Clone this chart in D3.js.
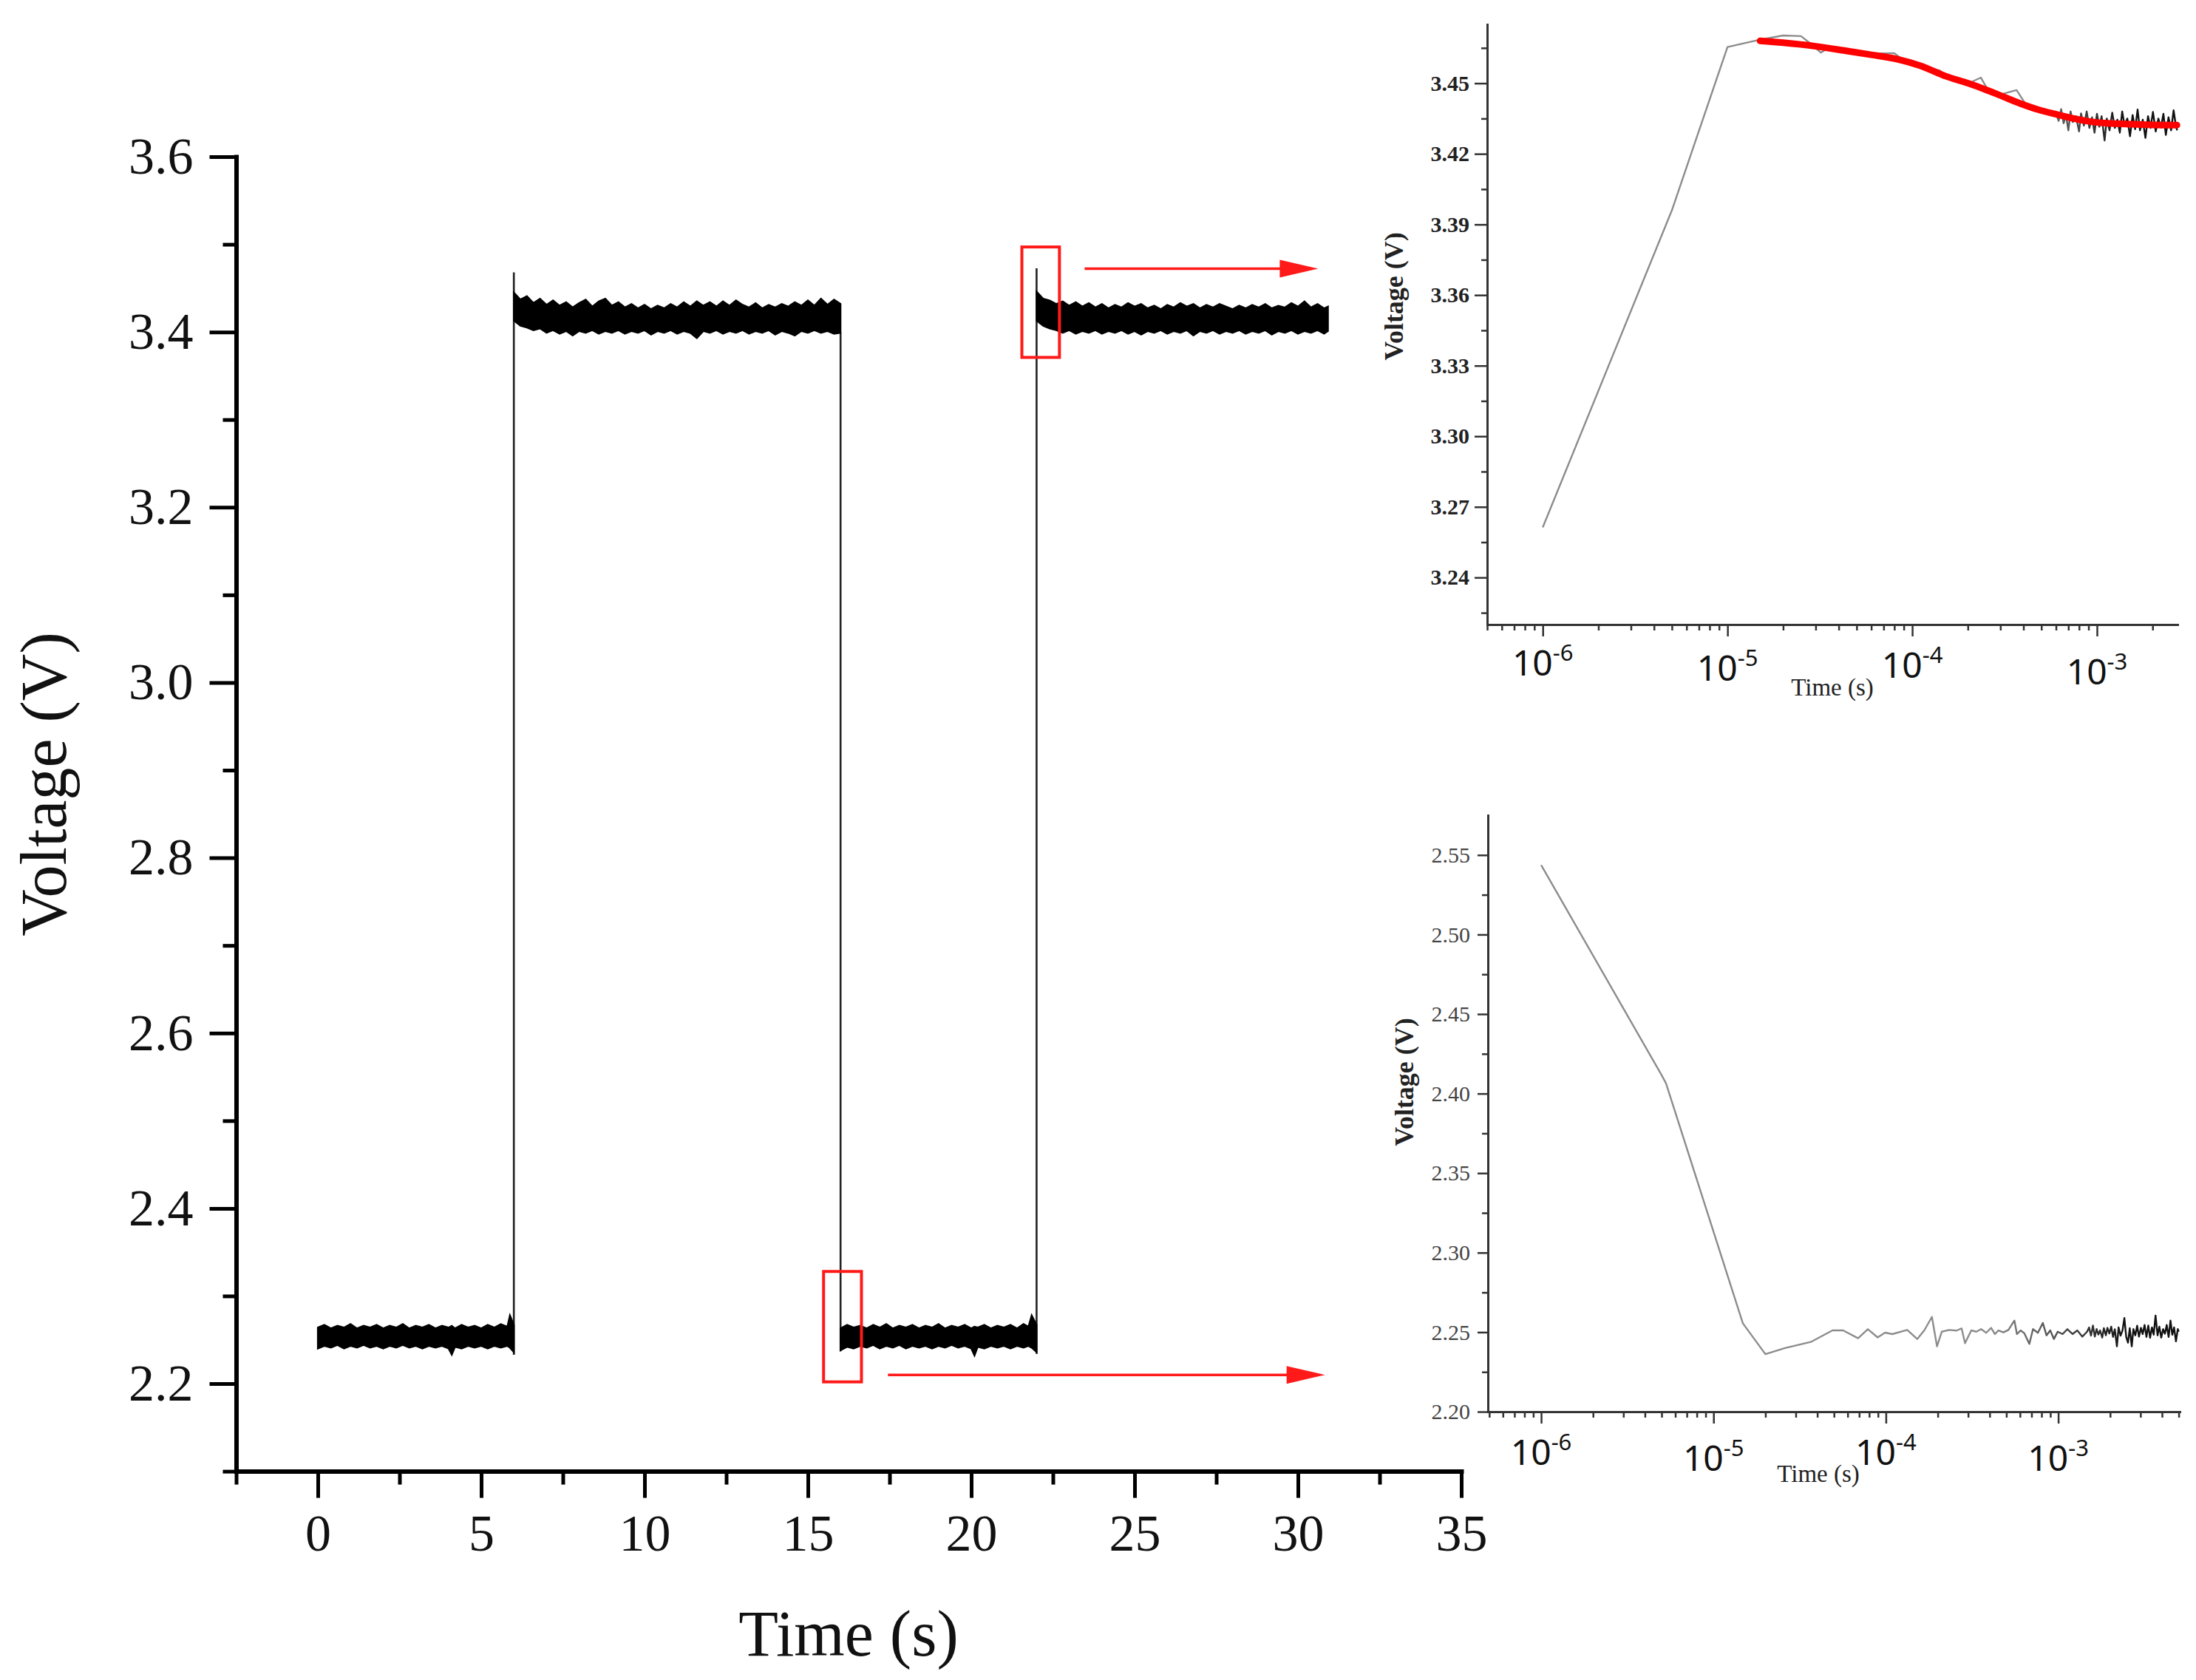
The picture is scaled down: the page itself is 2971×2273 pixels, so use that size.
<!DOCTYPE html>
<html><head><meta charset="utf-8">
<script src="https://cdn.jsdelivr.net/npm/d3@7"></script>
<style>html,body{margin:0;padding:0;background:#fff;} svg{display:block;}</style>
</head><body>
<svg id="c" width="2971" height="2273"></svg>
<script>
// ================= DATA =================
// Main chart ticks
const mainXTicks = [0, 5, 10, 15, 20, 25, 30, 35];
const mainXMinor = [-2.5, 2.5, 7.5, 12.5, 17.5, 22.5, 27.5, 32.5];
const mainYTicks = [2.2, 2.4, 2.6, 2.8, 3.0, 3.2, 3.4, 3.6];
const mainYMinor = [2.1, 2.3, 2.5, 2.7, 2.9, 3.1, 3.3, 3.5];

// Noisy plateaus: [time (s), upper envelope (V), lower envelope (V)]
const plateau1 = [
  [0.0,2.264,2.240],[0.2,2.267,2.243],[0.4,2.263,2.241],[0.6,2.266,2.244],[0.8,2.264,2.240],
  [1.0,2.268,2.243],[1.2,2.263,2.241],[1.4,2.266,2.244],[1.6,2.264,2.241],[1.8,2.267,2.243],
  [2.0,2.263,2.240],[2.2,2.266,2.243],[2.4,2.264,2.241],[2.6,2.268,2.244],[2.8,2.263,2.241],
  [3.0,2.266,2.243],[3.2,2.264,2.240],[3.4,2.267,2.243],[3.6,2.263,2.241],[3.8,2.266,2.243],
  [4.0,2.264,2.240],[4.1,2.266,2.233],[4.2,2.263,2.242],[4.4,2.267,2.240],[4.6,2.264,2.243],
  [4.8,2.266,2.241],[5.0,2.263,2.243],[5.2,2.267,2.240],[5.4,2.264,2.243],[5.6,2.268,2.241],
  [5.8,2.265,2.243],[5.88,2.278,2.241],[6.0,2.267,2.236]
];
const plateau2 = [
  [6.0,3.445,3.413],[6.2,3.437,3.407],[6.4,3.441,3.405],[6.6,3.433,3.402],[6.8,3.438,3.404],
  [7.0,3.431,3.399],[7.2,3.436,3.402],[7.4,3.430,3.398],[7.6,3.434,3.401],[7.8,3.428,3.396],
  [8.0,3.433,3.401],[8.2,3.437,3.399],[8.4,3.429,3.402],[8.6,3.435,3.398],[8.8,3.438,3.401],
  [9.0,3.430,3.399],[9.2,3.434,3.402],[9.4,3.428,3.398],[9.6,3.432,3.401],[9.8,3.427,3.399],
  [10.0,3.431,3.402],[10.2,3.426,3.397],[10.4,3.430,3.401],[10.6,3.427,3.399],[10.8,3.432,3.402],
  [11.0,3.428,3.398],[11.2,3.434,3.401],[11.4,3.429,3.399],[11.6,3.435,3.393],[11.8,3.430,3.401],
  [12.0,3.434,3.399],[12.2,3.429,3.402],[12.4,3.435,3.398],[12.6,3.430,3.401],[12.8,3.436,3.399],
  [13.0,3.431,3.402],[13.2,3.428,3.398],[13.4,3.433,3.401],[13.6,3.427,3.399],[13.8,3.431,3.402],
  [14.0,3.428,3.397],[14.2,3.432,3.401],[14.4,3.429,3.399],[14.6,3.434,3.396],[14.8,3.430,3.401],
  [15.0,3.436,3.399],[15.2,3.430,3.402],[15.4,3.438,3.399],[15.6,3.431,3.401],[15.8,3.437,3.398],
  [16.0,3.432,3.399]
];
const plateau3 = [
  [16.0,2.263,2.238],[16.2,2.267,2.242],[16.4,2.264,2.240],[16.6,2.266,2.243],[16.8,2.263,2.241],
  [17.0,2.267,2.244],[17.2,2.264,2.240],[17.4,2.268,2.243],[17.6,2.263,2.241],[17.8,2.266,2.244],
  [18.0,2.264,2.240],[18.2,2.267,2.243],[18.4,2.263,2.241],[18.6,2.266,2.243],[18.8,2.264,2.240],
  [19.0,2.268,2.243],[19.2,2.263,2.241],[19.4,2.266,2.244],[19.6,2.264,2.241],[19.8,2.267,2.243],
  [20.0,2.263,2.240],[20.1,2.265,2.232],[20.2,2.264,2.242],[20.4,2.267,2.240],[20.6,2.263,2.243],
  [20.8,2.266,2.241],[21.0,2.264,2.243],[21.2,2.267,2.240],[21.4,2.263,2.243],[21.6,2.268,2.241],
  [21.75,2.265,2.243],[21.85,2.278,2.241],[22.0,2.267,2.236]
];
const plateau4 = [
  [22.0,3.446,3.413],[22.2,3.438,3.407],[22.4,3.436,3.404],[22.6,3.432,3.402],[22.8,3.435,3.399],
  [23.0,3.430,3.402],[23.2,3.434,3.398],[23.4,3.429,3.401],[23.6,3.433,3.399],[23.8,3.428,3.402],
  [24.0,3.432,3.398],[24.2,3.427,3.401],[24.4,3.431,3.399],[24.6,3.428,3.402],[24.8,3.433,3.398],
  [25.0,3.429,3.401],[25.2,3.432,3.397],[25.4,3.427,3.401],[25.6,3.430,3.399],[25.8,3.426,3.402],
  [26.0,3.431,3.398],[26.2,3.428,3.401],[26.4,3.433,3.399],[26.6,3.429,3.402],[26.8,3.432,3.396],
  [27.0,3.427,3.401],[27.2,3.431,3.399],[27.4,3.428,3.402],[27.6,3.432,3.398],[27.8,3.429,3.401],
  [28.0,3.426,3.399],[28.2,3.430,3.402],[28.4,3.427,3.398],[28.6,3.431,3.401],[28.8,3.428,3.399],
  [29.0,3.432,3.402],[29.2,3.427,3.397],[29.4,3.430,3.401],[29.6,3.428,3.399],[29.8,3.433,3.402],
  [30.0,3.429,3.398],[30.2,3.435,3.401],[30.4,3.428,3.399],[30.6,3.432,3.402],[30.8,3.427,3.398],
  [30.92,3.429,3.401]
];
// Switching edges: [time, from V, to V]
const transitions = [[6.0, 2.233, 3.468], [16.0, 3.399, 2.237], [22.0, 2.234, 3.4726]];
// Zoom boxes: [t0, t1, v0, v1]; arrows: [t0, t1, v]
const zoomBoxes = [[21.55, 22.70, 3.371, 3.497], [15.48, 16.64, 2.202, 2.328]];
const arrows = [[23.47, 30.62, 3.4723], [17.45, 30.83, 2.210]];

// Upper inset (rising edge), raw trace [t (s), V]
const upRaw = [
  [1e-6,3.2613],[5e-6,3.396],[1e-5,3.4654],[1.5e-5,3.4685],[2e-5,3.4703],[2.5e-5,3.4700],
  [2.8e-5,3.4670],[3.2e-5,3.4630],[3.6e-5,3.4655],[4.5e-5,3.4640],[5.5e-5,3.4625],
  [8.0e-5,3.4628],[9e-5,3.4597],[1.2e-4,3.4565],[1.4e-4,3.4555],[1.6e-4,3.4522],
  [2e-4,3.4498],[2.35e-4,3.4524],[2.6e-4,3.4465],[3e-4,3.4452],[3.67e-4,3.4471],
  [4.2e-4,3.4400],[5e-4,3.4393],[5.5e-4,3.4372],
  [6.0e-4,3.4375],[6.2e-4,3.4340],[6.4e-4,3.4390],[6.6e-4,3.4330],[6.8e-4,3.4365],[7.0e-4,3.4300],
  [7.2e-4,3.4380],[7.4e-4,3.4335],[7.7e-4,3.4360],[8.0e-4,3.4295],[8.2e-4,3.4372],[8.5e-4,3.4320],
  [8.8e-4,3.4380],[9.1e-4,3.4310],[9.4e-4,3.4355],[9.7e-4,3.4290],
  [1.00e-3,3.4370],[1.03e-3,3.4315],[1.06e-3,3.4360],[1.10e-3,3.4257],[1.13e-3,3.4350],
  [1.17e-3,3.4300],[1.21e-3,3.4375],[1.25e-3,3.4310],[1.29e-3,3.4345],[1.33e-3,3.4290],
  [1.37e-3,3.4380],[1.41e-3,3.4320],[1.46e-3,3.4350],[1.51e-3,3.4275],[1.56e-3,3.4365],
  [1.61e-3,3.4305],[1.66e-3,3.4388],[1.71e-3,3.4300],[1.77e-3,3.4345],[1.83e-3,3.4268],
  [1.89e-3,3.4360],[1.95e-3,3.4310],[2.01e-3,3.4378],[2.08e-3,3.4295],[2.15e-3,3.4350],
  [2.22e-3,3.4312],[2.29e-3,3.4370],[2.36e-3,3.4280],[2.44e-3,3.4355],[2.52e-3,3.4300],
  [2.60e-3,3.4385],[2.68e-3,3.4315],[2.72e-3,3.4300]
];
// Upper inset fitted curve (red)
const upFit = [
  [1.5e-5,3.4680],[2e-5,3.4672],[3e-5,3.4657],[4.5e-5,3.4636],[6e-5,3.4621],[8.3e-5,3.4602],
  [1.1e-4,3.4575],[1.53e-4,3.4529],[2e-4,3.4500],[2.42e-4,3.4477],[3e-4,3.4448],[3.84e-4,3.4414],
  [4.8e-4,3.4388],[6.07e-4,3.4367],[7.5e-4,3.4350],[9.6e-4,3.4335],[1.2e-3,3.4329],
  [1.52e-3,3.4326],[2e-3,3.4323],[2.71e-3,3.4322]
];
const upYTicks = [3.24, 3.27, 3.30, 3.33, 3.36, 3.39, 3.42, 3.45];
const upYMinor = [3.225, 3.255, 3.285, 3.315, 3.345, 3.375, 3.405, 3.435, 3.465];

// Lower inset (falling edge), raw trace [t (s), V]
const lowRaw = [
  [1e-6,2.5437],[5e-6,2.4116],[5.3e-6,2.4065],[1.48e-5,2.2556],[2e-5,2.2362],[2.6e-5,2.2400],
  [3.7e-5,2.2440],[4.9e-5,2.2511],[5.65e-5,2.2511],[6.9e-5,2.2462],[7.86e-5,2.2519],
  [8.96e-5,2.2467],[9.9e-5,2.2497],[1.09e-4,2.2488],[1.33e-4,2.2514],[1.52e-4,2.2457],
  [1.67e-4,2.2511],[1.85e-4,2.2596],[1.98e-4,2.2411],[2.11e-4,2.2503],[2.33e-4,2.2514],
  [2.57e-4,2.2510],[2.75e-4,2.2524],[2.88e-4,2.2431],[3.13e-4,2.2511],[3.35e-4,2.2503],
  [3.57e-4,2.2519],[3.82e-4,2.2496],[4.08e-4,2.2527],[4.29e-4,2.2488],[4.5e-4,2.2511],
  [4.81e-4,2.2499],[5.14e-4,2.2514],[5.57e-4,2.2573],[5.76e-4,2.2488],[6.05e-4,2.2511],
  [6.36e-4,2.2493],[6.8e-4,2.2426],[7.14e-4,2.2519],[7.62e-4,2.2496],[8.14e-4,2.2558],
  [8.55e-4,2.2480],[8.99e-4,2.2511],[9.44e-4,2.2457],[9.93e-4,2.2503],[1.06e-3,2.2488],
  [1.13e-3,2.2519],[1.21e-3,2.2488],[1.29e-3,2.2511],[1.38e-3,2.2472],
  [1.47e-3,2.2503],[1.51e-3,2.2530],[1.55e-3,2.2478],[1.59e-3,2.2542],[1.63e-3,2.2472],
  [1.67e-3,2.2520],[1.71e-3,2.2485],[1.75e-3,2.2511],[1.80e-3,2.2466],[1.84e-3,2.2525],
  [1.89e-3,2.2480],[1.93e-3,2.2527],[1.98e-3,2.2492],[2.03e-3,2.2535],[2.08e-3,2.2470],
  [2.13e-3,2.2518],[2.19e-3,2.2411],[2.24e-3,2.2530],[2.30e-3,2.2478],[2.36e-3,2.2511],
  [2.42e-3,2.2589],[2.48e-3,2.2470],[2.54e-3,2.2434],[2.60e-3,2.2525],[2.67e-3,2.2411],
  [2.73e-3,2.2519],[2.80e-3,2.2480],[2.87e-3,2.2540],[2.94e-3,2.2472],[3.02e-3,2.2527],
  [3.09e-3,2.2488],[3.17e-3,2.2545],[3.25e-3,2.2470],[3.33e-3,2.2542],[3.41e-3,2.2465],
  [3.50e-3,2.2530],[3.58e-3,2.2484],[3.67e-3,2.2604],[3.77e-3,2.2480],[3.86e-3,2.2535],
  [3.96e-3,2.2466],[4.06e-3,2.2519],[4.16e-3,2.2490],[4.26e-3,2.2545],[4.37e-3,2.2470],
  [4.48e-3,2.2573],[4.59e-3,2.2484],[4.70e-3,2.2530],[4.82e-3,2.2442],[4.94e-3,2.2520],
  [5.0e-3,2.2503]
];
const lowYTicks = [2.20, 2.25, 2.30, 2.35, 2.40, 2.45, 2.50, 2.55];
const lowYMinor = [2.225, 2.275, 2.325, 2.375, 2.425, 2.475, 2.525];
const logTickExps = [-6, -5, -4, -3];

// ================= LAYOUT =================
const svg = d3.select('#c');
const serif = '"Liberation Serif", "Times New Roman", serif';
const sans = '"Noto Sans", "Open Sans", sans-serif';

// ---------- main chart ----------
const x = d3.scaleLinear().domain([-2.5, 35]).range([319.5, 1977]);
const y = d3.scaleLinear().domain([2.1, 3.6]).range([1990.6, 212]);
const gMain = svg.append('g');

function styleAxis(g, w, tw, color) {
  g.select('.domain').attr('stroke', color).attr('stroke-width', w).attr('stroke-linecap', 'square');
  g.selectAll('.tick line').attr('stroke', color).attr('stroke-width', tw);
}

gMain.append('g').attr('transform', `translate(0,${y(2.1)})`)
  .call(d3.axisBottom(x).tickValues(mainXMinor).tickSize(18).tickFormat(''))
  .call(g => { g.select('.domain').remove(); g.selectAll('line').attr('stroke', '#000').attr('stroke-width', 5); });
gMain.append('g').attr('transform', `translate(${x(-2.5)},0)`)
  .call(d3.axisLeft(y).tickValues(mainYMinor).tickSize(18).tickFormat(''))
  .call(g => { g.select('.domain').remove(); g.selectAll('line').attr('stroke', '#000').attr('stroke-width', 5); });

const xAx = gMain.append('g').attr('transform', `translate(0,${y(2.1)})`)
  .call(d3.axisBottom(x).tickValues(mainXTicks).tickSize(36).tickSizeOuter(0).tickPadding(22).tickFormat(d3.format('d')));
styleAxis(xAx, 6, 5, '#000');
xAx.selectAll('text').attr('font-family', serif).attr('font-size', 70).attr('fill', '#111');

const yAx = gMain.append('g').attr('transform', `translate(${x(-2.5)},0)`)
  .call(d3.axisLeft(y).tickValues(mainYTicks).tickSize(36).tickSizeOuter(0).tickPadding(22).tickFormat(d3.format('.1f')));
styleAxis(yAx, 6, 5, '#000');
yAx.selectAll('text').attr('font-family', serif).attr('font-size', 70).attr('fill', '#111');

gMain.append('text').attr('x', 1148).attr('y', 2240).attr('text-anchor', 'middle')
  .attr('font-family', serif).attr('font-size', 88).attr('fill', '#111').text('Time (s)');
gMain.append('text').attr('transform', 'translate(89,1061) rotate(-90)').attr('text-anchor', 'middle')
  .attr('font-family', serif).attr('font-size', 88).attr('fill', '#111').text('Voltage (V)');

const line2 = d3.line().x(d => x(d[0])).y(d => y(d[1]));
transitions.forEach(tr => {
  gMain.append('path').attr('d', line2([[tr[0], tr[1]], [tr[0], tr[2]]]))
    .attr('stroke', '#222').attr('stroke-width', 2.6).attr('fill', 'none');
});
const band = d3.area().x(d => x(d[0])).y0(d => y(d[2])).y1(d => y(d[1]));
[plateau1, plateau2, plateau3, plateau4].forEach(p => {
  gMain.append('path').attr('d', band(p)).attr('fill', '#000')
    .attr('stroke', '#000').attr('stroke-width', 2.2).attr('stroke-linejoin', 'miter');
});
zoomBoxes.forEach(b => {
  gMain.append('rect').attr('x', x(b[0])).attr('y', y(b[3]))
    .attr('width', x(b[1]) - x(b[0])).attr('height', y(b[2]) - y(b[3]))
    .attr('fill', 'none').attr('stroke', '#ff1a1a').attr('stroke-width', 4);
});
arrows.forEach(a => {
  const x0 = x(a[0]), x1 = x(a[1]), yy = y(a[2]);
  const headL = 52, headH = 12;
  gMain.append('line').attr('x1', x0).attr('x2', x1 - headL + 2).attr('y1', yy).attr('y2', yy)
    .attr('stroke', '#ff1a1a').attr('stroke-width', 3.5);
  gMain.append('path').attr('d', `M${x1},${yy} L${x1 - headL},${yy - headH} L${x1 - headL},${yy + headH} Z`)
    .attr('fill', '#ff1a1a');
});

// ---------- inset builder ----------
function logMinors(domain) {
  const out = [];
  for (let e = -7; e <= -2; e++) for (let m = 2; m <= 9; m++) {
    const v = m * Math.pow(10, e);
    if (v >= domain[0] && v <= domain[1]) out.push(v);
  }
  return out;
}
function inset(opt) {
  const g = svg.append('g');
  const xs = d3.scaleLog().domain(opt.xDomain).range(opt.xRange);
  const ys = d3.scaleLinear().domain(opt.yDomain).range(opt.yRange);
  const axY = opt.yRange[0];
  const col = '#333';
  g.append('g').attr('transform', `translate(0,${axY})`)
    .call(d3.axisBottom(xs).tickValues(logMinors(opt.xDomain)).tickSize(8).tickFormat(''))
    .call(gg => { gg.select('.domain').remove(); gg.selectAll('line').attr('stroke', col).attr('stroke-width', 2.5); });
  const xa = g.append('g').attr('transform', `translate(0,${axY})`)
    .call(d3.axisBottom(xs).tickValues(logTickExps.map(e => Math.pow(10, e))).tickSize(16).tickSizeOuter(0).tickFormat(''));
  styleAxis(xa, 3, 2.5, col);
  g.append('g').attr('transform', `translate(${opt.xRange[0]},0)`)
    .call(d3.axisLeft(ys).tickValues(opt.yMinor).tickSize(8).tickFormat(''))
    .call(gg => { gg.select('.domain').remove(); gg.selectAll('line').attr('stroke', col).attr('stroke-width', 2.5); });
  const ya = g.append('g').attr('transform', `translate(${opt.xRange[0]},0)`)
    .call(d3.axisLeft(ys).tickValues(opt.yTicks).tickSize(opt.yTickLen).tickSizeOuter(0).tickPadding(opt.yPad).tickFormat(d3.format('.2f')));
  styleAxis(ya, 3, 2.5, col);
  ya.selectAll('text').attr('font-family', serif).attr('font-size', 30)
    .attr('font-weight', opt.bold ? 'bold' : 'normal').attr('fill', opt.bold ? '#222' : '#444');
  logTickExps.forEach((e, i) => {
    const t = g.append('text').attr('x', xs(Math.pow(10, e))).attr('y', opt.labBase + opt.labDy[i])
      .attr('text-anchor', 'middle').attr('font-family', sans).attr('fill', '#111');
    t.append('tspan').attr('font-size', 48).text('10');
    t.append('tspan').attr('font-size', 31).attr('dy', -20).text('-' + Math.abs(e));
  });
  g.append('text').attr('x', opt.tPos[0]).attr('y', opt.tPos[1]).attr('text-anchor', 'middle')
    .attr('font-family', serif).attr('font-size', 33).attr('fill', '#222').text('Time (s)');
  g.append('text').attr('transform', `translate(${opt.vPos[0]},${opt.vPos[1]}) rotate(-90)`)
    .attr('text-anchor', 'middle').attr('font-family', serif).attr('font-weight', 'bold')
    .attr('font-size', 36).attr('fill', '#222').text('Voltage (V)');
  const gid = opt.id + 'grad';
  const grad = svg.append('defs').append('linearGradient').attr('id', gid)
    .attr('gradientUnits', 'userSpaceOnUse')
    .attr('x1', xs(opt.grad[0])).attr('x2', xs(opt.grad[1])).attr('y1', 0).attr('y2', 0);
  grad.append('stop').attr('offset', 0).attr('stop-color', '#8c8c8c');
  grad.append('stop').attr('offset', 1).attr('stop-color', '#111');
  const ln = d3.line().x(d => xs(d[0])).y(d => ys(d[1]));
  g.append('path').attr('d', ln(opt.raw)).attr('fill', 'none')
    .attr('stroke', `url(#${gid})`).attr('stroke-width', 2.4).attr('stroke-linejoin', 'round');
  if (opt.fit) {
    g.append('path').attr('d', ln.curve(d3.curveMonotoneX)(opt.fit)).attr('fill', 'none')
      .attr('stroke', '#ff0000').attr('stroke-width', 9).attr('stroke-linecap', 'round');
  }
}

inset({
  id: 'up', xDomain: [5e-7, 2.73e-3], xRange: [2012, 2946],
  yDomain: [3.22, 3.475], yRange: [845, 33],
  yTicks: upYTicks, yMinor: upYMinor, yTickLen: 17, yPad: 7, bold: true,
  labBase: 914, labDy: [0, 7, 3, 12], tPos: [2479, 941], vPos: [1898, 401],
  raw: upRaw, fit: upFit, grad: [4e-4, 1.4e-3]
});
inset({
  id: 'low', xDomain: [4.91e-7, 5.07e-3], xRange: [2013, 2949],
  yDomain: [2.20, 2.575], yRange: [1910, 1103],
  yTicks: lowYTicks, yMinor: lowYMinor, yTickLen: 14, yPad: 10, bold: false,
  labBase: 1982, labDy: [0, 8, 0, 8], tPos: [2460, 2005], vPos: [1912, 1464],
  raw: lowRaw, fit: null, grad: [4e-4, 2.5e-3]
});
</script>
</body></html>
